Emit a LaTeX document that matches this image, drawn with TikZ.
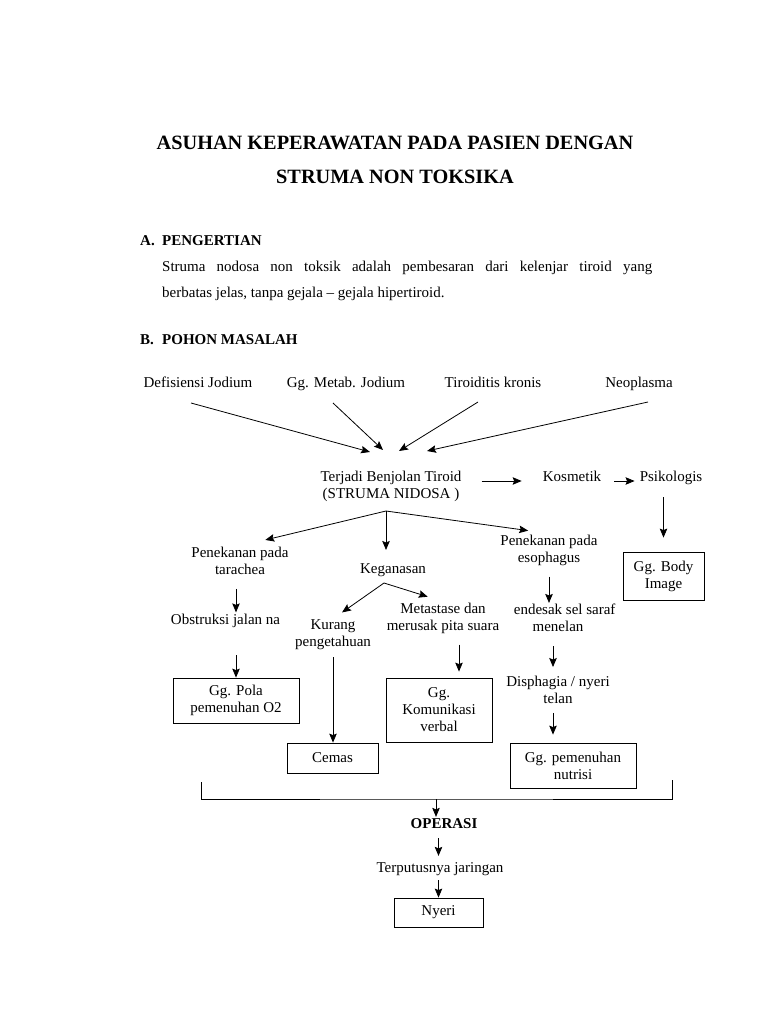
\documentclass[tikz,border=0pt]{standalone}
\usepackage{fontspec}
\setmainfont{Liberation Serif}
\usetikzlibrary{positioning,arrows.meta}
\newcommand{\diagfont}{\fontsize{15}{17}\selectfont}
\newcommand{\titlefont}{\fontsize{20.3}{34}\selectfont\bfseries}
\newcommand{\headfont}{\fontsize{15}{17}\selectfont\bfseries}
\newcommand{\bodyfont}{\fontsize{15}{26}\selectfont}

\begin{document}
\begin{tikzpicture}[x=1pt, y=-1pt, font=\diagfont]
    \tikzset{
        lbl/.style = {align=center, inner sep=1pt},
        txt/.style = {inner sep=1pt, anchor=base},
        mybox/.style = {rectangle, draw=black, line width=0.8pt, align=center, inner sep=2pt},
        arrow/.style = {line width=0.8pt, -{Stealth[length=9pt,width=7.5pt,inset=1.5pt]}}
    }
    \path[use as bounding box, fill=white] (0,0) rectangle (768,1024);

    % judul dan pengertian
    \node (title) [align=center, inner sep=0pt, font=\titlefont] at (395,160) {ASUHAN KEPERAWATAN PADA PASIEN DENGAN\\STRUMA NON TOKSIKA};
    \node (headA) [anchor=west, inner sep=0pt, font=\headfont] at (140,241) {\makebox[22pt][l]{A.}PENGERTIAN};
    \node (pengertian) [anchor=north west, inner sep=0pt, text width=490pt, align=justify, font=\bodyfont] at (162,261) {Struma nodosa non toksik adalah pembesaran dari kelenjar tiroid yang\linebreak berbatas jelas, tanpa gejala -- gejala hipertiroid.};
    \node (headB) [anchor=west, inner sep=0pt, font=\headfont] at (140,340) {\makebox[22pt][l]{B.}POHON MASALAH};

    % penyebab
    \node (defisiensi) [txt] at (198,387) {Defisiensi Jodium};
    \node (metab) [txt] at (346,387) {Gg. Metab. Jodium};
    \node (tiroiditis) [txt] at (493,387) {Tiroiditis kronis};
    \node (neoplasma) [txt] at (639,387) {Neoplasma};

    \node (struma) [lbl] at (391,486) {Terjadi Benjolan Tiroid\\(STRUMA NIDOSA )};
    \node (kosmetik) [txt] at (572,481) {Kosmetik};
    \node (psikologis) [txt] at (671,481) {Psikologis};
    \node (bodyimage) [mybox, minimum width=81pt, minimum height=48pt] at (663.5,576) {Gg. Body\\Image};

    \coordinate (in1) at (370,452);
    \coordinate (in2) at (383,450);
    \coordinate (in3) at (399,451);
    \coordinate (in4) at (427,451);
    \draw [arrow] ([xshift=-7pt,yshift=-16pt]defisiensi.base) -- (in1);
    \draw [arrow] ([xshift=-13pt,yshift=-16pt]metab.base) -- (in2);
    \draw [arrow] ([xshift=-15pt,yshift=-15pt]tiroiditis.base) -- (in3);
    \draw [arrow] ([xshift=9pt,yshift=-15pt]neoplasma.base) -- (in4);

    \draw [arrow, shorten <=19pt, shorten >=20pt] (struma.east |- kosmetik.base west) -- (kosmetik.base west);
    \draw [arrow, shorten <=12pt, shorten >=4pt] (kosmetik.base east) -- (psikologis.base west);
    \draw [arrow, shorten <=12pt, shorten >=14pt] (psikologis.south -| bodyimage.north) -- (bodyimage.north);

    % cabang struma
    \node (trachea) [lbl] at (240,561) {Penekanan pada\\tarachea};
    \node (keganasan) [txt] at (393,573) {Keganasan};
    \node (esophagus) [lbl] at (549,550) {Penekanan pada\\esophagus};
    \coordinate (jS) at (386,511);
    \draw [arrow, shorten >=26pt] (jS) -- (trachea.north);
    \draw [arrow, shorten >=12pt] (jS) -- (jS |- keganasan.north);
    \draw [arrow, shorten >=21pt] (jS) -- (esophagus.north);

    \node (obstruksi) [txt] at (225.5,624) {Obstruksi jalan na};
    \node (kurang) [lbl] at (333,635) {Kurang\\pengetahuan};
    \node (metastase) [lbl] at (443,618) {Metastase dan\\merusak pita suara};
    \node (mendesak) [lbl] at (558,618) {\phantom{M}endesak sel saraf\\menelan};
    \node (disphagia) [lbl] at (558,690) {Disphagia / nyeri\\telan};
    \coordinate (jK) at (384,583);
    \draw [arrow, shorten >=11pt] (jK) -- (kurang.north);
    \draw [arrow, shorten >=16pt] (jK) -- (metastase.north);

    % masalah keperawatan
    \node (polaO2) [mybox, minimum width=126pt, minimum height=45pt] at (236,700.5) {Gg. Pola\\pemenuhan O2};
    \node (cemas) [mybox, minimum width=91pt, minimum height=30pt] at (332.5,758) {Cemas};
    \node (komunikasi) [mybox, minimum width=106pt, minimum height=64pt] at (439,710) {Gg.\\Komunikasi\\verbal};
    \node (nutrisi) [mybox, minimum width=126pt, minimum height=45pt] at (573,765.5) {Gg. pemenuhan\\nutrisi};

    \draw [arrow, shorten <=13pt] (polaO2.north |- trachea.south) -- (polaO2.north |- obstruksi.north);
    \draw [arrow, shorten <=27pt] (polaO2.north |- obstruksi.south) -- (polaO2.north);
    \draw [arrow, shorten <=6pt] (kurang.south) -- (kurang.south |- cemas.north);
    \draw [arrow, shorten <=10pt, shorten >=6pt] ([xshift=16pt]metastase.south) -- ([xshift=16pt]metastase.south |- komunikasi.north);
    \draw [arrow, shorten <=10pt] (esophagus.south) -- (esophagus.south |- mendesak.north);
    \draw [arrow, shorten <=13pt, shorten >=8pt] ([xshift=-5pt]mendesak.south) -- ([xshift=-5pt]mendesak.south |- disphagia.north);
    \draw [arrow, shorten <=8pt, shorten >=8pt] ([xshift=-5pt]disphagia.south) -- ([xshift=-5pt]disphagia.south |- nutrisi.north);

    % operasi
    \node (operasi) [txt, font=\headfont] at (444,828) {OPERASI};
    \node (terputus) [txt] at (440,872) {Terputusnya jaringan};
    \node (nyeri) [mybox, minimum width=89pt, minimum height=29pt] at (438.5,912.5) {Nyeri};

    \coordinate (brL) at (201,782);
    \coordinate (brR) at (672,780);
    \coordinate (brM) at (436,799);
    \draw [line width=0.8pt] (brL) |- (brM) -| (brR);
    \draw [arrow] (brM) -- (brM |- operasi.north);
    \draw [arrow, shorten <=9pt, shorten >=5pt] (nyeri.north |- operasi.south) -- (nyeri.north |- terputus.north);
    \draw [arrow, shorten <=4pt] (nyeri.north |- terputus.south) -- (nyeri.north);
\end{tikzpicture}
\end{document}
